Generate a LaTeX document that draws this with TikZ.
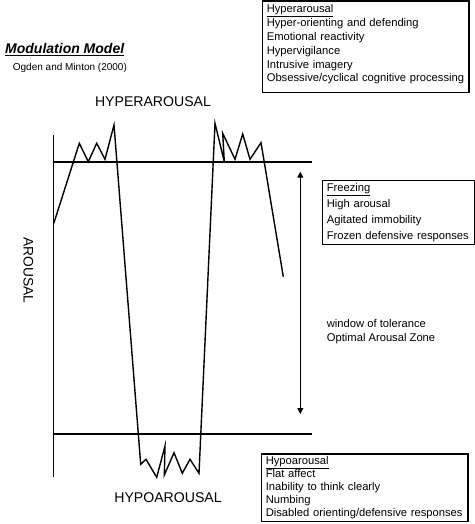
\documentclass[tikz,border=0pt]{standalone}
\usepackage{fontspec}
\setmainfont{Liberation Sans}
\usetikzlibrary{arrows.meta}

\begin{document}
\begin{tikzpicture}[x=1pt, y=-1pt, font=\fontsize{11.2}{13.8}\selectfont,
  bx/.style={draw, line width=1.2pt, anchor=north west, align=left, inner xsep=4.5pt},
  hd/.style={font=\fontsize{14.1}{16}\selectfont, inner sep=0pt, anchor=base},
  ax/.style={line width=1.6pt},
  cv/.style={line width=1.4pt, line join=miter},
  ar/.style={{Triangle[length=6pt, width=6pt]}-{Triangle[length=6pt, width=6pt]}, line width=1pt}]
\useasboundingbox (0,0) rectangle (474,524);
\node[inner sep=0pt, anchor=base west, font=\fontsize{14}{16}\selectfont\bfseries\itshape] (m) at (5,53.3) {\underline{Modulation Model}};
\node[inner sep=0pt, anchor=base west, font=\fontsize{10}{12}\selectfont] (o) at (12.7,70.3) {Ogden and Minton (2000)};
\node[hd] (a) at (153,106.8) {HYPERAROUSAL};
\node[hd] (b) at (168,502.2) {HYPOAROUSAL};
\node[font=\fontsize{13.8}{16}\selectfont, inner sep=0pt, rotate=-90] (c) at (28.3,270.5) {AROUSAL};
\node[bx, text width=197.6pt, inner ysep=3.6pt] (h) at (261.7,0.5) {\underline{Hyperarousal}\\Hyper-orienting and defending\\Emotional reactivity\\Hypervigilance\\Intrusive imagery\\Obsessive/cyclical cognitive processing\rule[-6.7pt]{0pt}{0pt}};
\node[bx, text width=142.8pt, inner ysep=2.5pt, font=\fontsize{11.2}{16.2}\selectfont] (f) at (321.7,180) {\underline{Freezing}\\High arousal\\Agitated immobility\\Frozen defensive responses};
\node[bx, text width=197.6pt, inner ysep=2.5pt, font=\fontsize{11.2}{13.1}\selectfont] (p) at (260.7,453.3) {\underline{Hypoarousal}\\Flat affect\\Inability to think clearly\\Numbing\\Disabled orienting/defensive responses};
\node[anchor=north west, inner sep=0pt, align=left, font=\fontsize{11.2}{14}\selectfont] (w) at (326.7,319.1) {window of tolerance\\Optimal Arousal Zone};
\draw[ax] (53.3,135) -- (53.3,477);
\draw[ax] (53.3,161.7) -- (311.7,161.7);
\draw[ax] (53.3,434) -- (311.7,434);
\coordinate (t) at (300.3,171.7);
\coordinate (u) at (300.3,414);
\draw[ar] (t) -- (u);
\draw[cv] (53.8,223.3) -- (79.3,143.3) -- (88.3,161.7) -- (96.7,143.3) -- (105,159.3) -- (114,125)
  -- (140.7,464.3) -- (146,459.3) -- (156.7,477.3) -- (165,446) -- (164.3,475) -- (174,452.7)
  -- (182.3,473.3) -- (190,459.3) -- (199,473.3) -- (215,123.3) -- (224.3,161.7) -- (222.7,133.3)
  -- (235,159.3) -- (242.7,134) -- (250,159.3) -- (261,142.7) -- (283.3,276.7);
\end{tikzpicture}
\end{document}
